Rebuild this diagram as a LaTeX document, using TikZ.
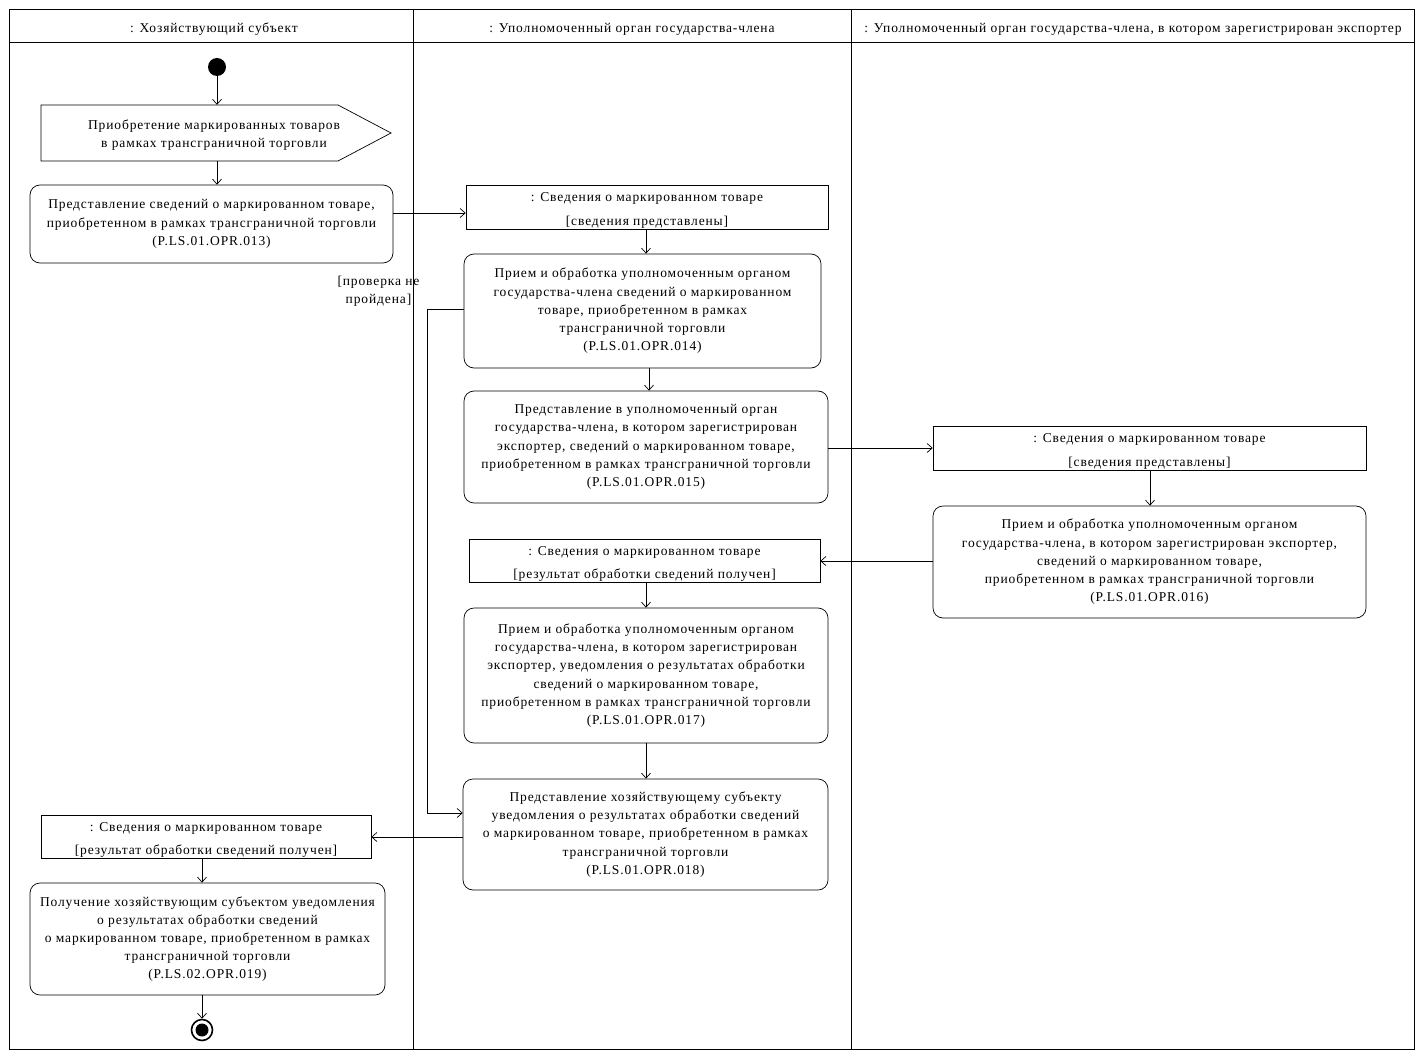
\documentclass[tikz,border=0pt]{standalone}
\usepackage{fontspec}
\setmainfont{Liberation Serif}[LetterSpace=6.5]
\usetikzlibrary{arrows.meta,positioning,calc}
\begin{document}
\begin{tikzpicture}[x=1pt,y=-1pt,
  every node/.style={font=\fontsize{13.5}{18.2}\selectfont, inner sep=0pt},
  act/.style={draw, rounded corners=10pt, align=center, line width=0.7pt},
  obj/.style={draw, line width=0.7pt},
  objtext/.style={align=center},
  flow/.style={-{Straight Barb[length=5pt,width=9pt]}, line width=0.7pt},
  lane/.style={line width=0.8pt}]
\useasboundingbox (0,0) rectangle (1423,1059);
% frame and lanes
\draw[lane] (9,9) rectangle (1414,1049);
\draw[lane] (9,42) -- (1414,42);
\draw[lane] (413,9) -- (413,1049);
\draw[lane] (851,9) -- (851,1049);
\node (h1) at (214,29.5) {: Хозяйствующий субъект};
\node (h2) at (632,29.5) {: Уполномоченный орган государства-члена};
\node (h3) at (1133,29.5) {: Уполномоченный орган государства-члена, в котором зарегистрирован экспортер};
% initial node
\node[circle, fill=black, minimum size=18pt] (init) at (217,67) {};
% send signal
\draw[line width=0.7pt] (41,105) -- (338,105) -- (391,133) -- (338,161) -- (41,161) -- cycle;
\node[minimum width=350pt, minimum height=56pt] (sig) at (216,133) {};
\node[align=center] (sigt) at (214,135) {Приобретение маркированных товаров\\в рамках трансграничной торговли};
% activities
\node[act, minimum width=363pt, minimum height=78pt] (b13) at (211.5,224) {Представление сведений о маркированном товаре,\\приобретенном в рамках трансграничной торговли\\(P.LS.01.OPR.013)};
\node[obj, minimum width=362pt, minimum height=44pt] (o1) at (647,207) {};
\node[objtext] (o1t) at ($(o1)+(0,3.5)$) {: Сведения о маркированном товаре\\[5pt]{[сведения представлены]}};
\node[act, minimum width=357pt, minimum height=114pt] (b14) at (642.5,311) {Прием и обработка уполномоченным органом\\государства-члена сведений о маркированном\\товаре, приобретенном в рамках\\трансграничной торговли\\(P.LS.01.OPR.014)};
\node[act, minimum width=364pt, minimum height=112pt] (b15) at (646,447) {Представление в уполномоченный орган\\государства-члена, в котором зарегистрирован\\экспортер, сведений о маркированном товаре,\\приобретенном в рамках трансграничной торговли\\(P.LS.01.OPR.015)};
\node[obj, minimum width=433pt, minimum height=44pt] (o2) at (1149.5,448) {};
\node[objtext] (o2t) at ($(o2)+(0,3.5)$) {: Сведения о маркированном товаре\\[5pt]{[сведения представлены]}};
\node[act, minimum width=433pt, minimum height=112pt] (b16) at (1149.5,562) {Прием и обработка уполномоченным органом\\государства-члена, в котором зарегистрирован экспортер,\\сведений о маркированном товаре,\\приобретенном в рамках трансграничной торговли\\(P.LS.01.OPR.016)};
\node[obj, minimum width=351pt, minimum height=43pt] (o3) at (644.5,560.5) {};
\node[objtext] (o3t) at ($(o3)+(0,3.5)$) {: Сведения о маркированном товаре\\[5pt]{[результат обработки сведений получен]}};
\node[act, minimum width=364pt, minimum height=135pt] (b17) at (646,675.5) {Прием и обработка уполномоченным органом\\государства-члена, в котором зарегистрирован\\экспортер, уведомления о результатах обработки\\сведений о маркированном товаре,\\приобретенном в рамках трансграничной торговли\\(P.LS.01.OPR.017)};
\node[act, minimum width=365pt, minimum height=111pt] (b18) at (645.5,834.5) {Представление хозяйствующему субъекту\\уведомления о результатах обработки сведений\\о маркированном товаре, приобретенном в рамках\\трансграничной торговли\\(P.LS.01.OPR.018)};
\node[obj, minimum width=330pt, minimum height=43pt] (o4) at (206,836.5) {};
\node[objtext] (o4t) at ($(o4)+(0,3.5)$) {: Сведения о маркированном товаре\\[5pt]{[результат обработки сведений получен]}};
\node[act, minimum width=355pt, minimum height=112pt] (b19) at (207.5,939) {Получение хозяйствующим субъектом уведомления\\о результатах обработки сведений\\о маркированном товаре, приобретенном в рамках\\трансграничной торговли\\(P.LS.02.OPR.019)};
% final node
\node[circle, draw, line width=1.6pt, minimum size=21pt] (fin) at (202,1030) {};
\node[circle, fill=black, minimum size=13pt] (fin2) at (202,1030) {};
% guard label
\node[align=center] (guard) at (378.5,291.5) {[проверка не\\пройдена]};
% connectors
\draw[flow] (init.south) -- (init.south |- sig.north);
\draw[flow] (sig.south -| init) -- (init |- b13.north);
\draw[flow] (b13.east |- 0,213) -- (o1.west |- 0,213);
\draw[flow] (646,229) coordinate (c1) -- (c1 |- b14.north);
\draw[flow] (649,368) coordinate (c2) -- (c2 |- b15.north);
\draw[flow] (b15.east |- 0,448) -- (o2.west |- 0,448);
\draw[flow] (1150,470) coordinate (c3) -- (c3 |- b16.north);
\draw[flow] (b16.west |- 0,561) -- (o3.east |- 0,561);
\draw[flow] (646,582) coordinate (c4) -- (c4 |- b17.north);
\draw[flow] (b17.south -| c4) -- (c4 |- b18.north);
\draw[flow] (b18.west |- 0,837) -- (o4.east |- 0,837);
\draw[flow] (202,858) coordinate (c5) -- (c5 |- b19.north);
\draw[flow] (b19.south -| c5) -- (fin.north);
\draw[flow] (b14.west |- 0,309) -- (427,309) -- (427,813) -- (b18.west |- 0,813);
\end{tikzpicture}
\end{document}
